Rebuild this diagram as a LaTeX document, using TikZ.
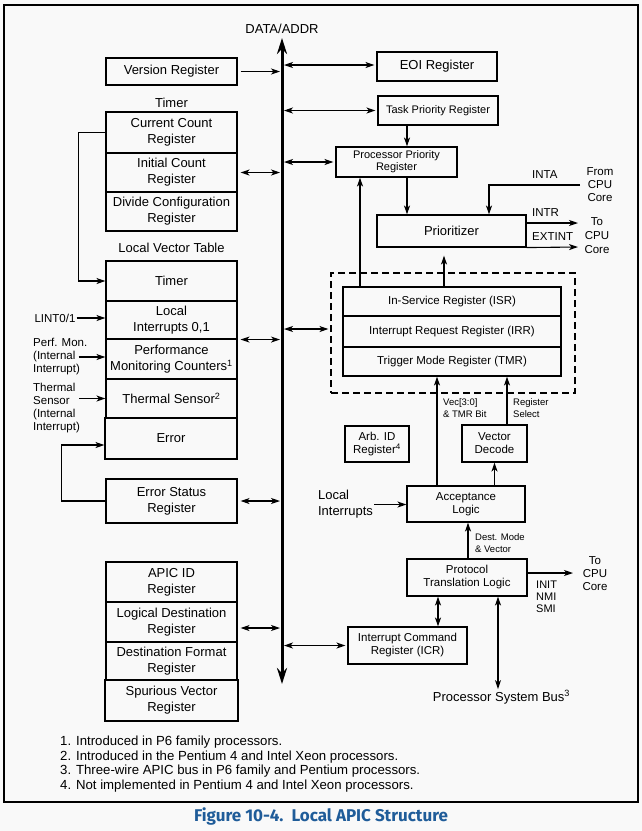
\documentclass[tikz,border=0pt]{standalone}
\usepackage{fontspec}
\setmainfont{Liberation Sans}
\newfontfamily\titlefont{Fira Sans}
\usetikzlibrary{arrows.meta}
\definecolor{titleblue}{HTML}{1F5C99}
\definecolor{paper}{HTML}{F9F9F9}

\tikzset{
  reg/.style={draw, line width=1.1pt, inner sep=1pt, align=center, font=\fontsize{13}{16}\selectfont},
  smallreg/.style={reg, font=\fontsize{11.5}{13}\selectfont},
  lbl/.style={inner sep=1pt, align=center, font=\fontsize{13}{16}\selectfont},
  note/.style={inner sep=1pt, align=left, font=\fontsize{11.5}{13}\selectfont},
  tiny/.style={inner sep=1pt, align=left, font=\fontsize{9.5}{12}\selectfont},
  link/.style={line width=1.1pt, -{Stealth[length=9pt,width=6pt,inset=2.5pt]}},
  both/.style={line width=1.1pt, {Stealth[length=9pt,width=6pt,inset=2.5pt]}-{Stealth[length=9pt,width=6pt,inset=2.5pt]}, shorten <=2pt, shorten >=2pt},
  tobus/.style={link, shorten <=3pt, shorten >=2pt},
}

\begin{document}
\begin{tikzpicture}[x=1pt, y=-1pt]
\useasboundingbox (0,0) rectangle (642,831);
\fill[paper] (0,0) rectangle (642,831);
\draw[line width=1.1pt] (4,5) rectangle (638,802);

% data/address bus
\coordinate (bus) at (282,0);
\coordinate (bustop) at (282,38);
\coordinate (busbot) at (282,684);
\draw[line width=3pt, {Stealth[length=16pt,width=10pt]}-{Stealth[length=16pt,width=10pt]}] (bustop) -- (busbot);
\node[lbl] (data) at (282,29) {DATA/ADDR};

% left column
\node[reg, minimum width=131pt, minimum height=27pt] (ver) at (171.5,71.5) {Version Register};
\node[lbl] (timerlbl) at (171.5,103) {Timer};
\node[reg, minimum width=131pt, minimum height=41pt] (cur) at (171.5,132.5) {Current Count\\Register};
\node[reg, minimum width=131pt, minimum height=39pt] (ini) at (171.5,172.5) {Initial Count\\Register};
\node[reg, minimum width=131pt, minimum height=39pt] (div) at (171.5,211.5) {Divide Configuration\\Register};

\node[lbl] (lvtlbl) at (171.5,248) {Local Vector Table};
\node[reg, minimum width=131pt, minimum height=40pt] (lvtimer) at (171.5,281) {Timer};
\node[reg, minimum width=131pt, minimum height=38pt] (lint) at (171.5,320) {Local\\Interrupts 0,1};
\node[reg, minimum width=131pt, minimum height=40pt] (perf) at (171.5,359) {Performance\\Monitoring Counters\textsuperscript{1}};
\node[reg, minimum width=131pt, minimum height=39pt] (therm) at (171.5,398.5) {Thermal Sensor\textsuperscript{2}};
\node[reg, minimum width=132pt, minimum height=41pt] (err) at (171,438.5) {Error};
\node[reg, minimum width=131pt, minimum height=44pt] (esr) at (171.5,501) {Error Status\\Register};

\node[reg, minimum width=131pt, minimum height=40pt] (apicid) at (171.5,582) {APIC ID\\Register};
\node[reg, minimum width=131pt, minimum height=40pt] (logdest) at (171.5,622) {Logical Destination\\Register};
\node[reg, minimum width=131pt, minimum height=38pt] (destfmt) at (171.5,661) {Destination Format\\Register};
\node[reg, minimum width=133pt, minimum height=41pt] (spur) at (171.5,700.5) {Spurious Vector\\Register};

% inputs of the local vector table
\node[note] (lintin) at (55,318) {LINT0/1};
\node[note, anchor=west] (perfin) at (32,357) {Perf. Mon.\\(Internal\\Interrupt)};
\node[note, anchor=west] (thermin) at (32,408.5) {Thermal\\Sensor\\(Internal\\Interrupt)};

% right column
\node[reg, minimum width=120pt, minimum height=29pt] (eoi) at (437,66.5) {EOI Register};
\node[reg, font=\fontsize{11}{12}\selectfont, minimum width=120pt, minimum height=29pt] (tpr) at (438,110.5) {Task Priority Register};
\node[reg, font=\fontsize{11}{12}\selectfont, minimum width=121pt, minimum height=30pt] (ppr) at (396.5,162) {Processor Priority\\Register};
\node[reg, minimum width=149pt, minimum height=32pt] (prio) at (451.5,231) {Prioritizer};

\node[draw, line width=1.1pt, dash pattern=on 7pt off 4pt, minimum width=244pt, minimum height=120pt] (apicregs) at (453,333) {};
\node[smallreg, minimum width=218pt, minimum height=29pt] (isr) at (452,301.5) {In-Service Register (ISR)};
\node[smallreg, minimum width=218pt, minimum height=31pt] (irr) at (452,331.5) {Interrupt Request Register (IRR)};
\node[smallreg, minimum width=218pt, minimum height=29pt] (tmr) at (452,361.5) {Trigger Mode Register (TMR)};

\node[smallreg, minimum width=64pt, minimum height=36pt] (arbid) at (377,444) {Arb. ID\\Register\textsuperscript{4}};
\node[smallreg, minimum width=65pt, minimum height=37pt] (vdec) at (494.5,443.5) {Vector\\Decode};
\node[smallreg, minimum width=118pt, minimum height=36pt] (accept) at (466,504) {Acceptance\\Logic};
\node[smallreg, minimum width=120pt, minimum height=37pt] (ptl) at (467,577.5) {Protocol\\Translation Logic};
\node[smallreg, minimum width=119pt, minimum height=37pt] (icr) at (407.5,645.5) {Interrupt Command\\Register (ICR)};

% signal labels
\node[note, anchor=west] (intalbl) at (531,175) {INTA};
\node[note, align=center] (fromcpu) at (600,185) {From\\CPU\\Core};
\node[note, anchor=west] (intrlbl) at (531,213) {INTR};
\node[note, anchor=west] (extintlbl) at (531,237) {EXTINT};
\node[note, align=center, font=\fontsize{11.5}{14}\selectfont] (tocpu) at (597,236) {To\\CPU\\Core};
\node[tiny, anchor=west] (veclbl) at (442,408) {Vec[3:0]\\\& TMR Bit};
\node[tiny, anchor=west] (sellbl) at (512,408) {Register\\Select};
\node[lbl, align=left] (locint) at (345.5,504.5) {Local\\Interrupts};
\node[tiny, anchor=west] (destlbl) at (474,543) {Dest. Mode\\\& Vector};
\node[note, font=\fontsize{11}{12}\selectfont, anchor=west] (initlbl) at (535,597) {INIT\\NMI\\SMI};
\node[note, align=center] (tocpu2) at (595,574) {To\\CPU\\Core};
\node[lbl] (psb) at (501.5,697) {Processor System Bus\textsuperscript{3}};

% footnotes and caption
\node[note, font=\fontsize{13.2}{14.5}\selectfont, anchor=west] (notes) at (59,764) {1. Introduced in P6 family processors.\\2. Introduced in the Pentium 4 and Intel Xeon processors.\\3. Three-wire APIC bus in P6 family and Pentium processors.\\4. Not implemented in Pentium 4 and Intel Xeon processors.};
\node[font=\titlefont\bfseries\fontsize{17}{19}\selectfont, text=titleblue] (title) at (321,816) {Figure 10-4.\ \ Local APIC Structure};

% left side to bus
\draw[tobus] (ver.east) -- (ver.east -| bus);
\draw[both, shorten <=3pt] (ini.east) -- (ini.east -| bus);
\draw[both, shorten <=3pt] (lint.south east) -- (lint.south east -| bus);
\draw[both, shorten <=3pt] (esr.east) -- (esr.east -| bus);
\draw[both, shorten <=3pt] ([yshift=-6pt]logdest.east) -- ([yshift=-6pt]logdest.east -| bus);

% timer and error loops
\draw[link] (cur.west) -- ++(-27,0) |- (lvtimer.west);
\draw[link] (esr.west) -- ++(-44,0) |- ([yshift=-6.5pt]err.west);
\draw[link] (lintin.east) -- (lintin.east -| lint.west);
\draw[link] ([xshift=-10pt]perfin.east) -- (perfin.east -| perf.west);
\draw[link] ([xshift=-2pt,yshift=10pt]thermin.east) -- ([yshift=10pt]thermin.east -| therm.west);

% bus to right side
\draw[both] ([yshift=1.5pt]eoi.west -| bus) -- ([yshift=1.5pt]eoi.west);
\draw[both] (tpr.west -| bus) -- (tpr.west);
\draw[both] (ppr.west -| bus) -- (ppr.west);
\draw[both] ([yshift=2.5pt]irr.west -| bus) -- ([yshift=2.5pt]irr.west -| apicregs.west);
\draw[both] (icr.west -| bus) -- (icr.west);

% priority path
\draw[link] ([xshift=-31pt]tpr.south) -- ([xshift=-31pt]tpr.south |- ppr.north);
\draw[link] ([xshift=10.5pt]ppr.south) -- ([xshift=10.5pt]ppr.south |- prio.north);
\coordinate (intain) at (580,185);
\coordinate (introut) at (578,223);
\coordinate (extintout) at (578,247);
\draw[link] (intain) -| ([xshift=37.5pt]prio.north);
\draw[link] (introut -| prio.east) -- (introut);
\draw[link] (prio.south east) -- (extintout);
\draw[link] ([xshift=-92pt]isr.north) -- ([xshift=-92pt]isr.north |- ppr.south);
\draw[link, shorten >=8pt] ([xshift=-8pt]isr.north) -- ([xshift=-8pt]isr.north |- prio.south);

% acceptance path
\draw[link] ([xshift=-29pt]accept.north) -- ([xshift=-29pt]accept.north |- tmr.south);
\draw[link] (accept.north -| vdec.south) -- (vdec.south);
\draw[link] ([xshift=12.5pt]vdec.north) -- ([xshift=12.5pt]vdec.north |- tmr.south);
\draw[link] (locint.east) -- (locint.east -| accept.west);
\draw[link] ([xshift=1pt]ptl.north) -- ([xshift=1pt]ptl.north |- accept.south);
\coordinate (ptlout) at (573,573);
\draw[link] (ptlout -| ptl.east) -- (ptlout);
\draw[both, shorten <=0pt, shorten >=0pt] ([xshift=-29pt]ptl.south) -- ([xshift=-29pt]ptl.south |- icr.north);
\draw[both, shorten <=0pt, shorten >=0pt] ([xshift=31pt]ptl.south) -- ([xshift=31pt]ptl.south |- psb.north);
\end{tikzpicture}
\end{document}
